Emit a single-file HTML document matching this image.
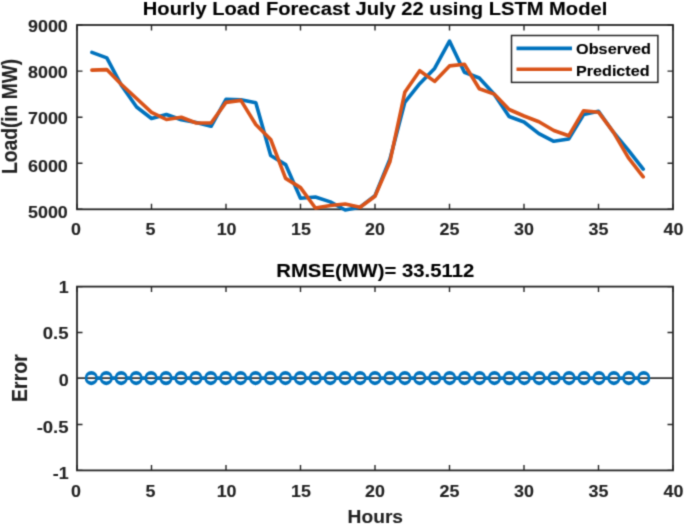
<!DOCTYPE html><html><head><meta charset="utf-8"><title>Hourly Load Forecast</title><style>
html,body{margin:0;padding:0;background:#fff;}body{width:685px;height:524px;overflow:hidden;}
svg{display:block;}text{font-family:'Liberation Sans', Arial, Helvetica, sans-serif;font-weight:bold;stroke-width:0.1px;}
</style></head><body>
<svg width="685" height="524" viewBox="0 0 685 524">
<defs><filter id="soft" x="0" y="0" width="685" height="524" filterUnits="userSpaceOnUse" color-interpolation-filters="sRGB"><feConvolveMatrix order="3" kernelMatrix="1 4 1 4 16 4 1 4 1" divisor="36" edgeMode="duplicate"/></filter></defs>
<g filter="url(#soft)">
<rect x="0" y="0" width="685" height="524" fill="#fff"/>
<path d="M77.0,209.3v-5.5M77.0,25.0v5.5M151.5,209.3v-5.5M151.5,25.0v5.5M226.0,209.3v-5.5M226.0,25.0v5.5M300.5,209.3v-5.5M300.5,25.0v5.5M375.0,209.3v-5.5M375.0,25.0v5.5M449.5,209.3v-5.5M449.5,25.0v5.5M524.0,209.3v-5.5M524.0,25.0v5.5M598.5,209.3v-5.5M598.5,25.0v5.5M673.0,209.3v-5.5M673.0,25.0v5.5M77.0,209.3h5.5M673.0,209.3h-5.5M77.0,163.2h5.5M673.0,163.2h-5.5M77.0,117.2h5.5M673.0,117.2h-5.5M77.0,71.1h5.5M673.0,71.1h-5.5M77.0,25.0h5.5M673.0,25.0h-5.5" stroke="#262626" stroke-width="1.4" fill="none"/>
<rect x="77.0" y="25.0" width="596.0" height="184.3" fill="none" stroke="#262626" stroke-width="1.8"/>
<g fill="none" stroke-width="3.6" stroke-linejoin="round" stroke-linecap="round">
<polyline points="91.9,52.4 106.8,57.9 121.7,85.8 136.6,107.0 151.5,118.5 166.4,114.5 181.3,119.8 196.2,122.4 211.1,126.3 226.0,99.3 240.9,99.7 255.8,102.7 270.7,155.5 285.6,164.6 300.5,198.2 315.4,197.0 330.3,201.9 345.2,210.0 360.1,207.2 375.0,195.6 389.9,159.2 404.8,102.4 419.7,83.7 434.6,68.4 449.5,41.1 464.4,72.2 479.3,78.0 494.2,94.2 509.1,116.5 524.0,122.0 538.9,133.7 553.8,141.3 568.7,139.0 583.6,114.5 598.5,111.3 613.4,132.2 628.3,150.2 643.2,169.2" stroke="#0072BD"/>
<polyline points="91.9,70.1 106.8,69.6 121.7,84.7 136.6,98.5 151.5,112.4 166.4,119.5 181.3,117.2 196.2,123.0 211.1,123.0 226.0,102.4 240.9,100.4 255.8,124.5 270.7,139.4 285.6,178.4 300.5,187.6 315.4,208.0 330.3,205.5 345.2,204.0 360.1,207.2 375.0,196.2 389.9,161.8 404.8,92.3 419.7,70.7 434.6,81.4 449.5,65.9 464.4,64.2 479.3,88.8 494.2,94.1 509.1,109.5 524.0,116.0 538.9,121.8 553.8,130.5 568.7,135.8 583.6,110.7 598.5,112.2 613.4,132.2 628.3,157.7 643.2,176.9" stroke="#D95319"/>
</g>
<rect x="511.5" y="35.5" width="146.4" height="46.9" fill="#fff" stroke="#262626" stroke-width="1.5"/>
<path d="M516.5,48.4H572" stroke="#0072BD" stroke-width="3.6"/>
<path d="M516.5,69.3H572" stroke="#D95319" stroke-width="3.6"/>
<text x="576.1" y="53.7" font-size="14.6" fill="#000" stroke="#000" textLength="74.8" lengthAdjust="spacingAndGlyphs">Observed</text>
<text x="576.1" y="76.0" font-size="14.6" fill="#000" stroke="#000" textLength="73.4" lengthAdjust="spacingAndGlyphs">Predicted</text>
<text transform="translate(76.0,235.1) scale(1.12,1)" font-size="16" fill="#222" stroke="#222" text-anchor="middle">0</text>
<text transform="translate(150.5,235.1) scale(1.12,1)" font-size="16" fill="#222" stroke="#222" text-anchor="middle">5</text>
<text transform="translate(226.6,235.1) scale(1.12,1)" font-size="16" fill="#222" stroke="#222" text-anchor="middle">10</text>
<text transform="translate(300.9,235.1) scale(1.12,1)" font-size="16" fill="#222" stroke="#222" text-anchor="middle">15</text>
<text transform="translate(375.0,235.1) scale(1.12,1)" font-size="16" fill="#222" stroke="#222" text-anchor="middle">20</text>
<text transform="translate(449.5,235.1) scale(1.12,1)" font-size="16" fill="#222" stroke="#222" text-anchor="middle">25</text>
<text transform="translate(524.0,235.1) scale(1.12,1)" font-size="16" fill="#222" stroke="#222" text-anchor="middle">30</text>
<text transform="translate(598.5,235.1) scale(1.12,1)" font-size="16" fill="#222" stroke="#222" text-anchor="middle">35</text>
<text transform="translate(673.5,235.1) scale(1.12,1)" font-size="16" fill="#222" stroke="#222" text-anchor="middle">40</text>
<text transform="translate(67.8,32.2) scale(1.12,1)" font-size="16" fill="#222" stroke="#222" text-anchor="end">9000</text>
<text transform="translate(67.8,78.0) scale(1.12,1)" font-size="16" fill="#222" stroke="#222" text-anchor="end">8000</text>
<text transform="translate(67.8,124.2) scale(1.12,1)" font-size="16" fill="#222" stroke="#222" text-anchor="end">7000</text>
<text transform="translate(67.8,172.4) scale(1.12,1)" font-size="16" fill="#222" stroke="#222" text-anchor="end">6000</text>
<text transform="translate(67.8,218.1) scale(1.12,1)" font-size="16" fill="#222" stroke="#222" text-anchor="end">5000</text>
<text x="142.8" y="14.7" font-size="18" fill="#000" stroke="#000" textLength="464.5" lengthAdjust="spacingAndGlyphs">Hourly Load Forecast July 22 using LSTM Model</text>
<text transform="translate(17.0,116.4) scale(1.13,1) rotate(-90)" font-size="19.2" fill="#222" stroke="#222" text-anchor="middle">Load(in MW)</text>
<path d="M77.0,470.4v-5.5M77.0,286.6v5.5M151.5,470.4v-5.5M151.5,286.6v5.5M226.0,470.4v-5.5M226.0,286.6v5.5M300.5,470.4v-5.5M300.5,286.6v5.5M375.0,470.4v-5.5M375.0,286.6v5.5M449.5,470.4v-5.5M449.5,286.6v5.5M524.0,470.4v-5.5M524.0,286.6v5.5M598.5,470.4v-5.5M598.5,286.6v5.5M673.0,470.4v-5.5M673.0,286.6v5.5M77.0,470.40h5.5M673.0,470.40h-5.5M77.0,424.45h5.5M673.0,424.45h-5.5M77.0,332.55h5.5M673.0,332.55h-5.5M77.0,286.60h5.5M673.0,286.60h-5.5" stroke="#262626" stroke-width="1.4" fill="none"/>
<path d="M77.0,378.1H673.0" stroke="#333" stroke-width="1.9"/>
<path d="M96.3,378.1H101.3M111.3,378.1H116.2M126.2,378.1H131.1M141.1,378.1H146.1M156.1,378.1H161.0M171.0,378.1H175.9M185.9,378.1H190.8M200.8,378.1H205.8M215.8,378.1H220.7M230.7,378.1H235.6M245.6,378.1H250.6M260.6,378.1H265.5M275.5,378.1H280.4M290.4,378.1H295.4M305.4,378.1H310.3M320.3,378.1H325.2M335.2,378.1H340.1M350.1,378.1H355.1M365.1,378.1H370.0M380.0,378.1H384.9M394.9,378.1H399.9M409.9,378.1H414.8M424.8,378.1H429.7M439.7,378.1H444.6M454.6,378.1H459.6M469.6,378.1H474.5M484.5,378.1H489.4M499.4,378.1H504.4M514.4,378.1H519.3M529.3,378.1H534.2M544.2,378.1H549.2M559.2,378.1H564.1M574.1,378.1H579.0M589.0,378.1H593.9M603.9,378.1H608.9M618.9,378.1H623.8M633.8,378.1H638.7" stroke="#0072BD" stroke-width="3.6"/>
<path d="M84.73,378.10a6.6,7.1 0 1,0 13.20,0a6.6,7.1 0 1,0 -13.20,0ZM87.33,378.10a4.0,3.3 0 1,0 8.00,0a4.0,3.3 0 1,0 -8.00,0ZM99.66,378.10a6.6,7.1 0 1,0 13.20,0a6.6,7.1 0 1,0 -13.20,0ZM102.26,378.10a4.0,3.3 0 1,0 8.00,0a4.0,3.3 0 1,0 -8.00,0ZM114.59,378.10a6.6,7.1 0 1,0 13.20,0a6.6,7.1 0 1,0 -13.20,0ZM117.19,378.10a4.0,3.3 0 1,0 8.00,0a4.0,3.3 0 1,0 -8.00,0ZM129.52,378.10a6.6,7.1 0 1,0 13.20,0a6.6,7.1 0 1,0 -13.20,0ZM132.12,378.10a4.0,3.3 0 1,0 8.00,0a4.0,3.3 0 1,0 -8.00,0ZM144.45,378.10a6.6,7.1 0 1,0 13.20,0a6.6,7.1 0 1,0 -13.20,0ZM147.05,378.10a4.0,3.3 0 1,0 8.00,0a4.0,3.3 0 1,0 -8.00,0ZM159.38,378.10a6.6,7.1 0 1,0 13.20,0a6.6,7.1 0 1,0 -13.20,0ZM161.98,378.10a4.0,3.3 0 1,0 8.00,0a4.0,3.3 0 1,0 -8.00,0ZM174.31,378.10a6.6,7.1 0 1,0 13.20,0a6.6,7.1 0 1,0 -13.20,0ZM176.91,378.10a4.0,3.3 0 1,0 8.00,0a4.0,3.3 0 1,0 -8.00,0ZM189.24,378.10a6.6,7.1 0 1,0 13.20,0a6.6,7.1 0 1,0 -13.20,0ZM191.84,378.10a4.0,3.3 0 1,0 8.00,0a4.0,3.3 0 1,0 -8.00,0ZM204.17,378.10a6.6,7.1 0 1,0 13.20,0a6.6,7.1 0 1,0 -13.20,0ZM206.77,378.10a4.0,3.3 0 1,0 8.00,0a4.0,3.3 0 1,0 -8.00,0ZM219.10,378.10a6.6,7.1 0 1,0 13.20,0a6.6,7.1 0 1,0 -13.20,0ZM221.70,378.10a4.0,3.3 0 1,0 8.00,0a4.0,3.3 0 1,0 -8.00,0ZM234.03,378.10a6.6,7.1 0 1,0 13.20,0a6.6,7.1 0 1,0 -13.20,0ZM236.63,378.10a4.0,3.3 0 1,0 8.00,0a4.0,3.3 0 1,0 -8.00,0ZM248.96,378.10a6.6,7.1 0 1,0 13.20,0a6.6,7.1 0 1,0 -13.20,0ZM251.56,378.10a4.0,3.3 0 1,0 8.00,0a4.0,3.3 0 1,0 -8.00,0ZM263.89,378.10a6.6,7.1 0 1,0 13.20,0a6.6,7.1 0 1,0 -13.20,0ZM266.49,378.10a4.0,3.3 0 1,0 8.00,0a4.0,3.3 0 1,0 -8.00,0ZM278.82,378.10a6.6,7.1 0 1,0 13.20,0a6.6,7.1 0 1,0 -13.20,0ZM281.42,378.10a4.0,3.3 0 1,0 8.00,0a4.0,3.3 0 1,0 -8.00,0ZM293.75,378.10a6.6,7.1 0 1,0 13.20,0a6.6,7.1 0 1,0 -13.20,0ZM296.35,378.10a4.0,3.3 0 1,0 8.00,0a4.0,3.3 0 1,0 -8.00,0ZM308.68,378.10a6.6,7.1 0 1,0 13.20,0a6.6,7.1 0 1,0 -13.20,0ZM311.28,378.10a4.0,3.3 0 1,0 8.00,0a4.0,3.3 0 1,0 -8.00,0ZM323.61,378.10a6.6,7.1 0 1,0 13.20,0a6.6,7.1 0 1,0 -13.20,0ZM326.21,378.10a4.0,3.3 0 1,0 8.00,0a4.0,3.3 0 1,0 -8.00,0ZM338.54,378.10a6.6,7.1 0 1,0 13.20,0a6.6,7.1 0 1,0 -13.20,0ZM341.14,378.10a4.0,3.3 0 1,0 8.00,0a4.0,3.3 0 1,0 -8.00,0ZM353.47,378.10a6.6,7.1 0 1,0 13.20,0a6.6,7.1 0 1,0 -13.20,0ZM356.07,378.10a4.0,3.3 0 1,0 8.00,0a4.0,3.3 0 1,0 -8.00,0ZM368.40,378.10a6.6,7.1 0 1,0 13.20,0a6.6,7.1 0 1,0 -13.20,0ZM371.00,378.10a4.0,3.3 0 1,0 8.00,0a4.0,3.3 0 1,0 -8.00,0ZM383.33,378.10a6.6,7.1 0 1,0 13.20,0a6.6,7.1 0 1,0 -13.20,0ZM385.93,378.10a4.0,3.3 0 1,0 8.00,0a4.0,3.3 0 1,0 -8.00,0ZM398.26,378.10a6.6,7.1 0 1,0 13.20,0a6.6,7.1 0 1,0 -13.20,0ZM400.86,378.10a4.0,3.3 0 1,0 8.00,0a4.0,3.3 0 1,0 -8.00,0ZM413.19,378.10a6.6,7.1 0 1,0 13.20,0a6.6,7.1 0 1,0 -13.20,0ZM415.79,378.10a4.0,3.3 0 1,0 8.00,0a4.0,3.3 0 1,0 -8.00,0ZM428.12,378.10a6.6,7.1 0 1,0 13.20,0a6.6,7.1 0 1,0 -13.20,0ZM430.72,378.10a4.0,3.3 0 1,0 8.00,0a4.0,3.3 0 1,0 -8.00,0ZM443.05,378.10a6.6,7.1 0 1,0 13.20,0a6.6,7.1 0 1,0 -13.20,0ZM445.65,378.10a4.0,3.3 0 1,0 8.00,0a4.0,3.3 0 1,0 -8.00,0ZM457.98,378.10a6.6,7.1 0 1,0 13.20,0a6.6,7.1 0 1,0 -13.20,0ZM460.58,378.10a4.0,3.3 0 1,0 8.00,0a4.0,3.3 0 1,0 -8.00,0ZM472.91,378.10a6.6,7.1 0 1,0 13.20,0a6.6,7.1 0 1,0 -13.20,0ZM475.51,378.10a4.0,3.3 0 1,0 8.00,0a4.0,3.3 0 1,0 -8.00,0ZM487.84,378.10a6.6,7.1 0 1,0 13.20,0a6.6,7.1 0 1,0 -13.20,0ZM490.44,378.10a4.0,3.3 0 1,0 8.00,0a4.0,3.3 0 1,0 -8.00,0ZM502.77,378.10a6.6,7.1 0 1,0 13.20,0a6.6,7.1 0 1,0 -13.20,0ZM505.37,378.10a4.0,3.3 0 1,0 8.00,0a4.0,3.3 0 1,0 -8.00,0ZM517.70,378.10a6.6,7.1 0 1,0 13.20,0a6.6,7.1 0 1,0 -13.20,0ZM520.30,378.10a4.0,3.3 0 1,0 8.00,0a4.0,3.3 0 1,0 -8.00,0ZM532.63,378.10a6.6,7.1 0 1,0 13.20,0a6.6,7.1 0 1,0 -13.20,0ZM535.23,378.10a4.0,3.3 0 1,0 8.00,0a4.0,3.3 0 1,0 -8.00,0ZM547.56,378.10a6.6,7.1 0 1,0 13.20,0a6.6,7.1 0 1,0 -13.20,0ZM550.16,378.10a4.0,3.3 0 1,0 8.00,0a4.0,3.3 0 1,0 -8.00,0ZM562.49,378.10a6.6,7.1 0 1,0 13.20,0a6.6,7.1 0 1,0 -13.20,0ZM565.09,378.10a4.0,3.3 0 1,0 8.00,0a4.0,3.3 0 1,0 -8.00,0ZM577.42,378.10a6.6,7.1 0 1,0 13.20,0a6.6,7.1 0 1,0 -13.20,0ZM580.02,378.10a4.0,3.3 0 1,0 8.00,0a4.0,3.3 0 1,0 -8.00,0ZM592.35,378.10a6.6,7.1 0 1,0 13.20,0a6.6,7.1 0 1,0 -13.20,0ZM594.95,378.10a4.0,3.3 0 1,0 8.00,0a4.0,3.3 0 1,0 -8.00,0ZM607.28,378.10a6.6,7.1 0 1,0 13.20,0a6.6,7.1 0 1,0 -13.20,0ZM609.88,378.10a4.0,3.3 0 1,0 8.00,0a4.0,3.3 0 1,0 -8.00,0ZM622.21,378.10a6.6,7.1 0 1,0 13.20,0a6.6,7.1 0 1,0 -13.20,0ZM624.81,378.10a4.0,3.3 0 1,0 8.00,0a4.0,3.3 0 1,0 -8.00,0ZM637.14,378.10a6.6,7.1 0 1,0 13.20,0a6.6,7.1 0 1,0 -13.20,0ZM639.74,378.10a4.0,3.3 0 1,0 8.00,0a4.0,3.3 0 1,0 -8.00,0Z" fill="#0072BD" fill-rule="evenodd"/>
<rect x="77.0" y="286.6" width="596.0" height="183.8" fill="none" stroke="#262626" stroke-width="1.8"/>
<text transform="translate(76.0,496.5) scale(1.12,1)" font-size="16" fill="#222" stroke="#222" text-anchor="middle">0</text>
<text transform="translate(150.5,496.5) scale(1.12,1)" font-size="16" fill="#222" stroke="#222" text-anchor="middle">5</text>
<text transform="translate(226.6,496.5) scale(1.12,1)" font-size="16" fill="#222" stroke="#222" text-anchor="middle">10</text>
<text transform="translate(300.9,496.5) scale(1.12,1)" font-size="16" fill="#222" stroke="#222" text-anchor="middle">15</text>
<text transform="translate(375.0,496.5) scale(1.12,1)" font-size="16" fill="#222" stroke="#222" text-anchor="middle">20</text>
<text transform="translate(449.5,496.5) scale(1.12,1)" font-size="16" fill="#222" stroke="#222" text-anchor="middle">25</text>
<text transform="translate(524.0,496.5) scale(1.12,1)" font-size="16" fill="#222" stroke="#222" text-anchor="middle">30</text>
<text transform="translate(598.5,496.5) scale(1.12,1)" font-size="16" fill="#222" stroke="#222" text-anchor="middle">35</text>
<text transform="translate(673.5,496.5) scale(1.12,1)" font-size="16" fill="#222" stroke="#222" text-anchor="middle">40</text>
<text transform="translate(68.6,293.4) scale(1.12,1)" font-size="16" fill="#222" stroke="#222" text-anchor="end">1</text>
<text transform="translate(68.6,339.4) scale(1.16,1)" font-size="16" fill="#222" stroke="#222" text-anchor="end">0.5</text>
<text transform="translate(68.6,386.2) scale(1.12,1)" font-size="16" fill="#222" stroke="#222" text-anchor="end">0</text>
<text transform="translate(68.6,433.3) scale(1.16,1)" font-size="16" fill="#222" stroke="#222" text-anchor="end">-0.5</text>
<text transform="translate(68.6,479.3) scale(1.12,1)" font-size="16" fill="#222" stroke="#222" text-anchor="end">-1</text>
<text x="276.3" y="277.0" font-size="18.6" fill="#000" stroke="#000" textLength="198" lengthAdjust="spacingAndGlyphs">RMSE(MW)= 33.5112</text>
<text x="375.3" y="522.5" font-size="19" fill="#222" stroke="#222" text-anchor="middle" textLength="55.5" lengthAdjust="spacingAndGlyphs">Hours</text>
<text transform="translate(26.8,378.1) scale(1.14,1) rotate(-90)" font-size="19.5" fill="#222" stroke="#222" text-anchor="middle">Error</text>
</g></svg></body></html>
